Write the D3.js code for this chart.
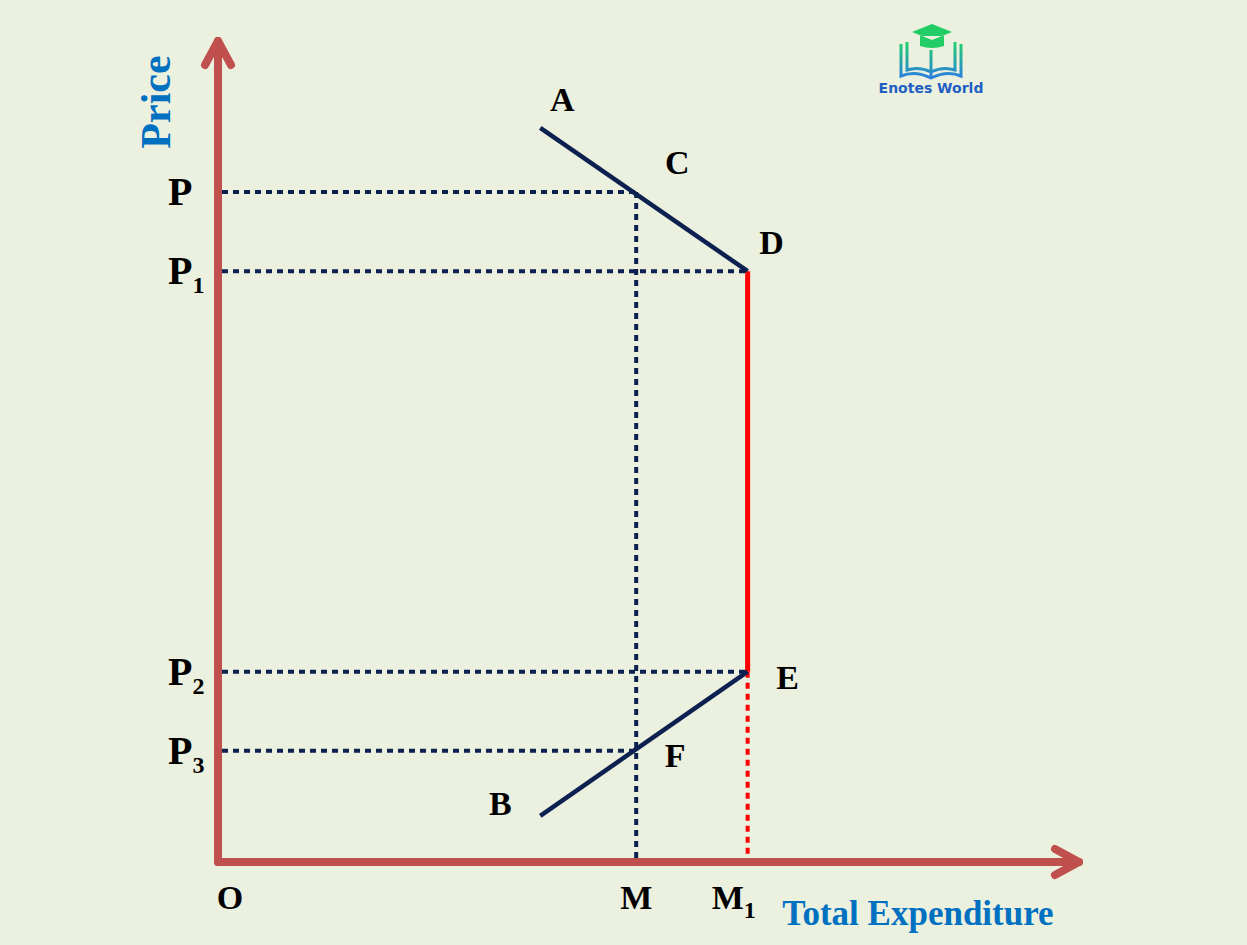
<!DOCTYPE html><html><head><meta charset="utf-8"><script src="https://cdn.jsdelivr.net/npm/d3@7"></script>
<style>body{margin:0;background:#ecf0df}</style></head><body><script>
const priceLevels=[{k:"P",sub:"",y:81.3,x:48.4},{k:"P",sub:"1",y:71.7,x:61.3},{k:"P",sub:"2",y:23.1,x:61.3},{k:"P",sub:"3",y:13.5,x:48.4}];
const qtyLevels=[{k:"M",sub:"",x:48.4},{k:"M",sub:"1",x:61.3}];
const upperCurve=[{x:37.3,y:89.1},{x:61.3,y:71.7}];
const lowerCurve=[{x:37.3,y:5.6},{x:61.3,y:23.1}];
const pointLabels=[{t:"A",x:37.3,y:89.1,dx:22,dy:-29},{t:"C",x:48.4,y:81.3,dx:41,dy:-30},{t:"D",x:61.3,y:71.7,dx:24,dy:-29},{t:"E",x:61.3,y:23.1,dx:40,dy:5},{t:"F",x:48.4,y:13.5,dx:39,dy:4},{t:"B",x:37.3,y:5.6,dx:-40,dy:-13}];
const W=1247,H=945;
const svg=d3.select("body").append("svg").attr("width",W).attr("height",H);
svg.append("rect").attr("width",W).attr("height",H).attr("fill","#ecf0df");
const x=d3.scaleLinear().domain([0,100]).range([218,1082]);
const y=d3.scaleLinear().domain([0,100]).range([862,38]);
const navy="#0d2150",red="#ff0000",ax="#c0504d";
const f="'Liberation Serif',serif";
priceLevels.forEach(p=>svg.append("line").attr("x1",x(0)+4).attr("x2",x(p.x)).attr("y1",y(p.y)).attr("y2",y(p.y)).attr("stroke",navy).attr("stroke-width",4).attr("stroke-dasharray","6,5"));
svg.append("line").attr("x1",x(48.4)).attr("x2",x(48.4)).attr("y1",y(81.3)).attr("y2",y(0)).attr("stroke",navy).attr("stroke-width",4).attr("stroke-dasharray","6,5");
svg.append("line").attr("x1",x(61.3)).attr("x2",x(61.3)).attr("y1",y(23.1)).attr("y2",y(0)).attr("stroke",red).attr("stroke-width",4).attr("stroke-dasharray","6,5");
svg.append("line").attr("x1",x(61.3)).attr("x2",x(61.3)).attr("y1",y(71.7)).attr("y2",y(23.1)).attr("stroke",red).attr("stroke-width",5);
const ln=d3.line().x(d=>x(d.x)).y(d=>y(d.y));
[upperCurve,lowerCurve].forEach(c=>svg.append("path").attr("d",ln(c)).attr("fill","none").attr("stroke",navy).attr("stroke-width",4.5));
const g=svg.append("g").attr("stroke",ax).attr("stroke-width",8).attr("stroke-linecap","round").attr("fill","none");
g.append("line").attr("x1",x(0)).attr("y1",y(0)).attr("x2",x(0)).attr("y2",y(100)+3);
g.append("polyline").attr("points",`${x(0)-13},${y(100)+27} ${x(0)},${y(100)+3} ${x(0)+13},${y(100)+27}`).attr("stroke-linejoin","round");
g.append("line").attr("x1",x(0)).attr("y1",y(0)).attr("x2",x(100)-3).attr("y2",y(0));
g.append("polyline").attr("points",`${x(100)-27},${y(0)-13} ${x(100)-3},${y(0)} ${x(100)-27},${y(0)+13}`).attr("stroke-linejoin","round");
function lab(t,sub,px,py,anchor,fs){const e=svg.append("text").attr("x",px).attr("y",py).attr("font-family",f).attr("font-weight","bold").attr("font-size",fs||34).attr("text-anchor",anchor||"middle").attr("fill","#000").text(t);
 if(sub)e.append("tspan").attr("font-size",24).attr("dy",9).text(sub);}
priceLevels.forEach(p=>lab(p.k,p.sub,168,y(p.y)+13,"start",40));
lab("O","",230,909);
qtyLevels.forEach(q=>lab(q.k,q.sub,x(q.x)-(q.sub?36:0),909,q.sub?"start":"middle"));
pointLabels.forEach(p=>lab(p.t,"",x(p.x)+p.dx,y(p.y)+p.dy+12));
svg.append("text").attr("x",918).attr("y",925).attr("text-anchor","middle").attr("font-family",f).attr("font-weight","bold").attr("font-size",35).attr("fill","#0070c0").text("Total Expenditure");
svg.append("text").attr("transform","translate(170,102) rotate(-90)").attr("text-anchor","middle").attr("font-family",f).attr("font-weight","bold").attr("font-size",42).attr("fill","#0070c0").text("Price");
const defs=svg.append("defs");const gr=defs.append("linearGradient").attr("id","lg").attr("x1",0).attr("y1",0).attr("x2",0).attr("y2",1);
gr.append("stop").attr("offset",0).attr("stop-color","#22d36a");gr.append("stop").attr("offset",1).attr("stop-color","#2a7fe0");
const L=svg.append("g").attr("transform","translate(898,22)");
L.append("path").attr("d","M3,22 L3,54 Q17,48 33,56 Q49,48 63,54 L63,22 M33,56 L33,28 M9,20 L9,48 Q21,44 33,50 Q45,44 57,48 L57,20").attr("fill","none").attr("stroke","url(#lg)").attr("stroke-width",3);
L.append("path").attr("d","M14,10 L34,2 L54,10 L34,18 Z M22,14 L22,24 Q34,28 46,24 L46,14").attr("fill","#22cc66");
L.append("text").attr("x",33).attr("y",71).attr("text-anchor","middle").attr("font-family","'DejaVu Sans',sans-serif").attr("font-weight","bold").attr("font-size",14).attr("fill","#1f5fc4").text("Enotes World");
</script></body></html>
